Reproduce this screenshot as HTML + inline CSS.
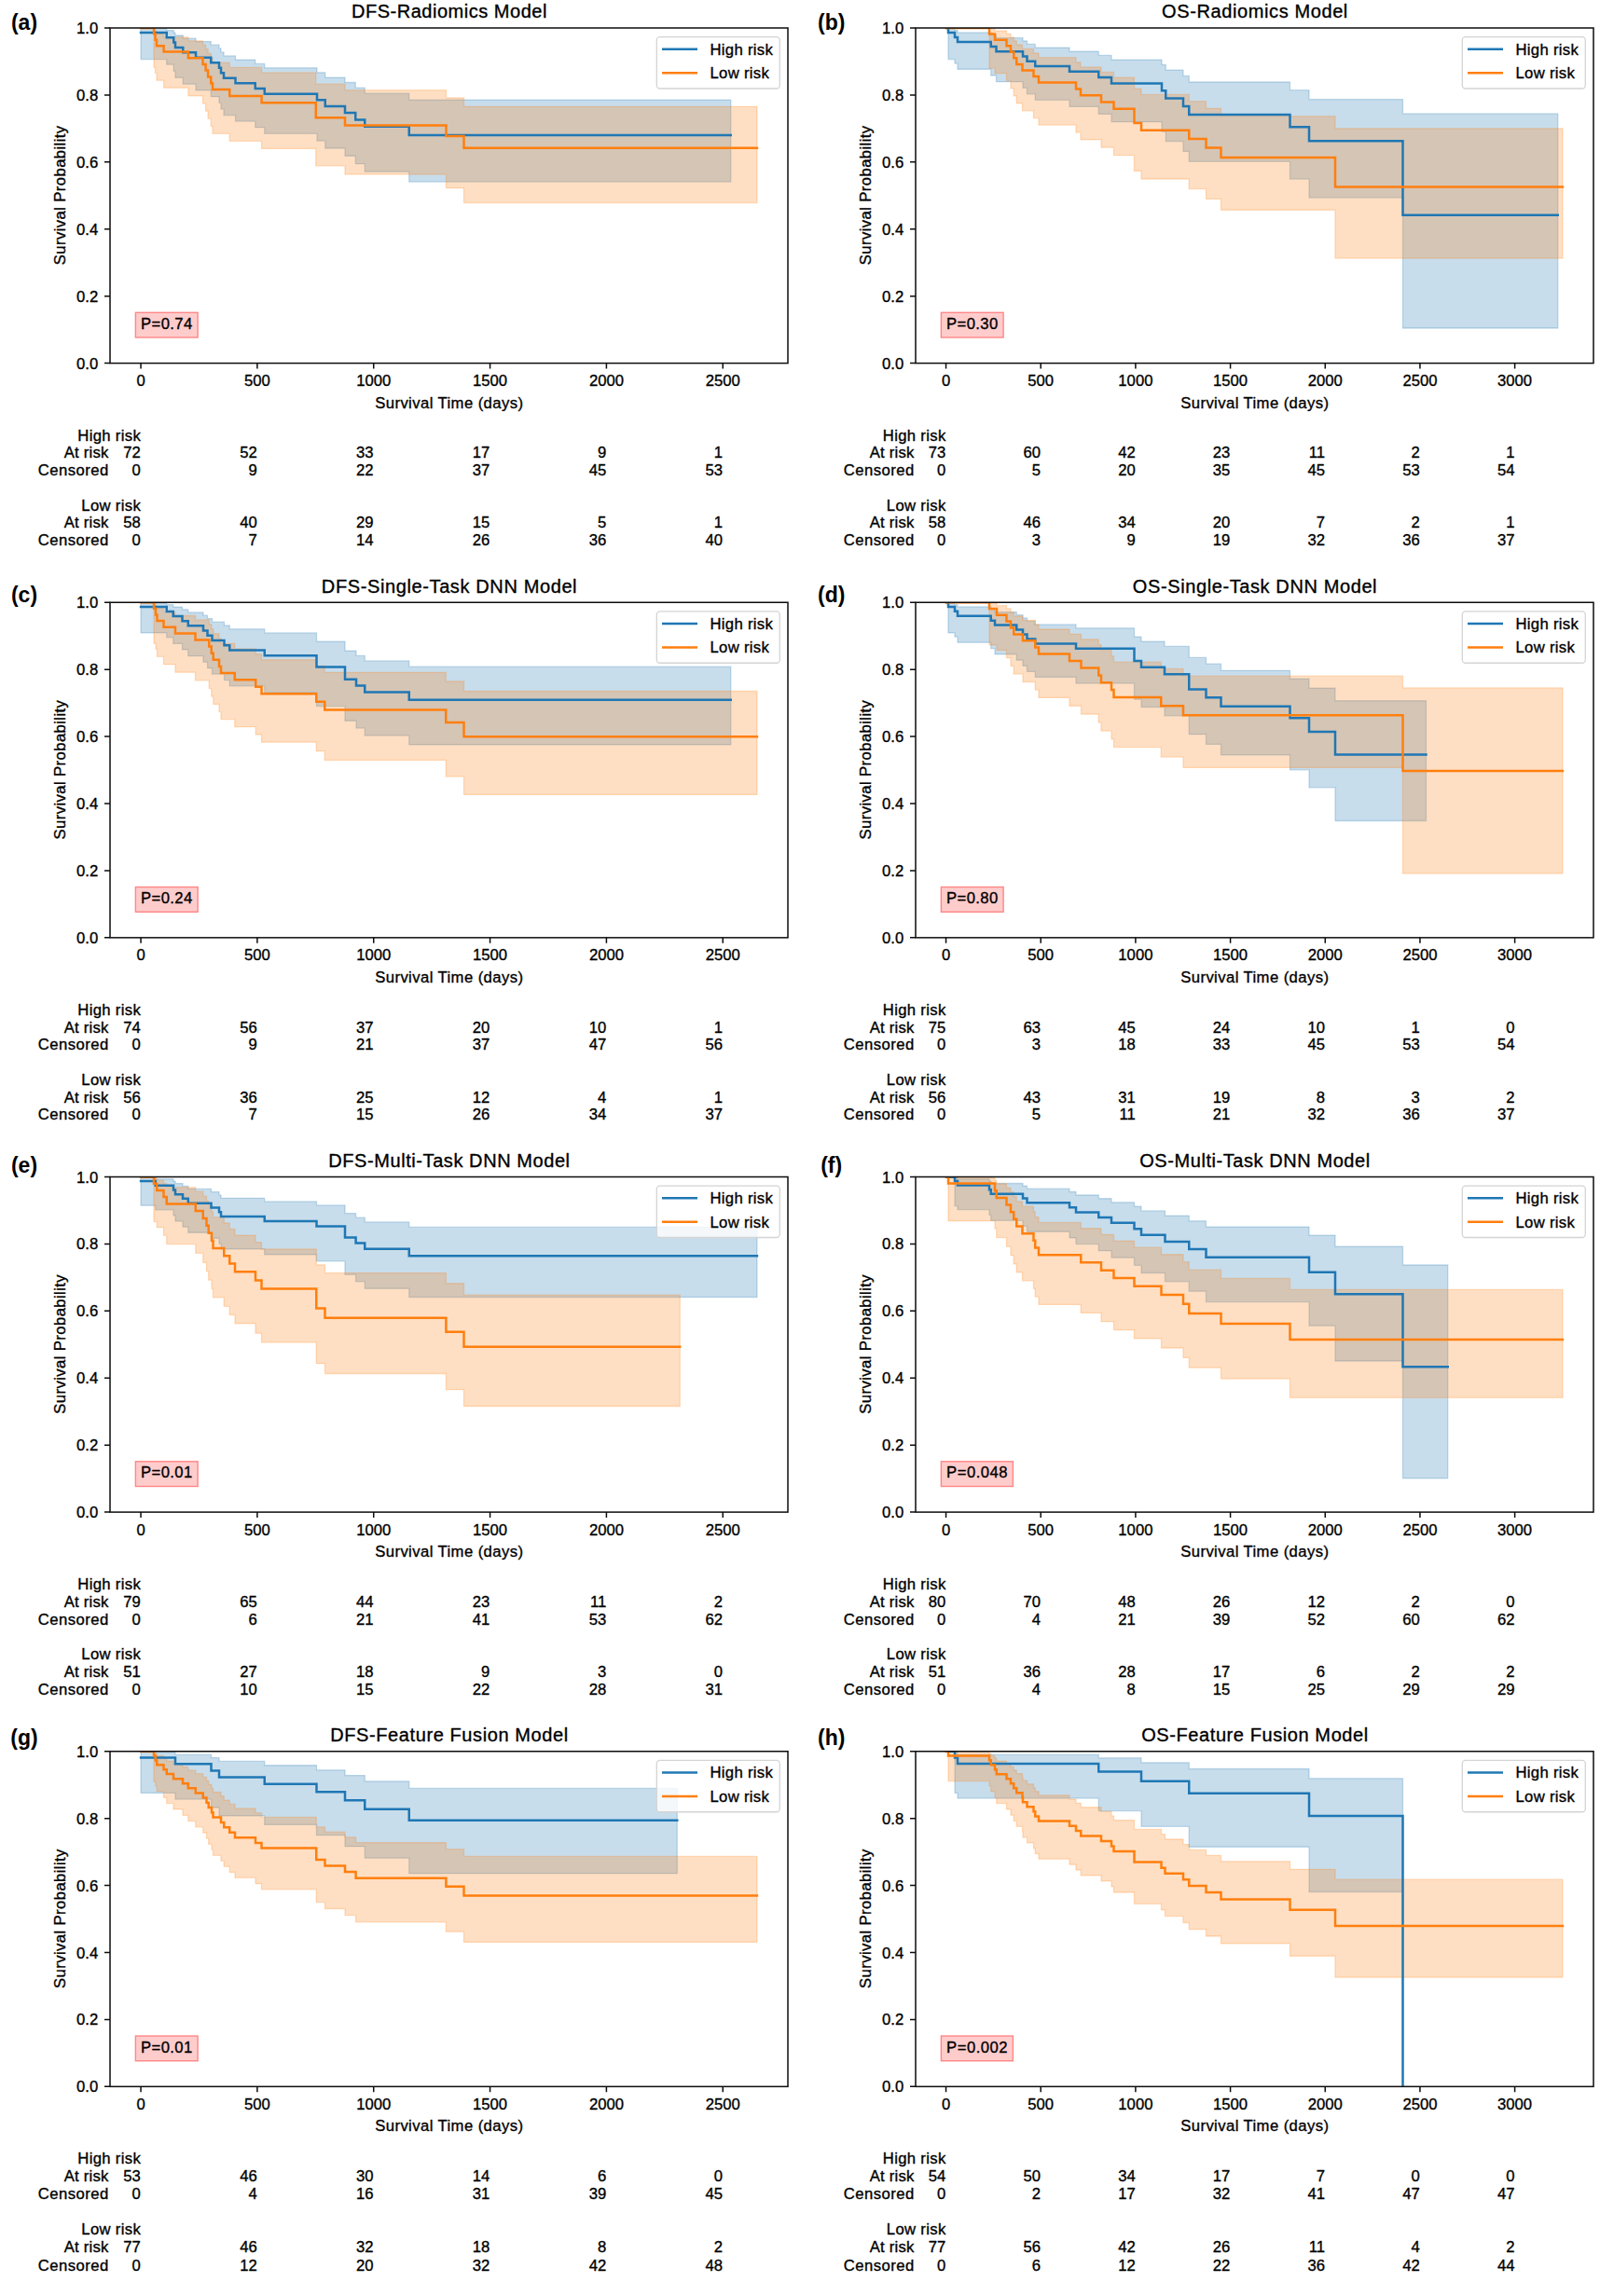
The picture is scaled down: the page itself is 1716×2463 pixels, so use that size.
<!DOCTYPE html>
<html lang="en"><head><meta charset="utf-8"><title>Kaplan-Meier survival curves</title>
<style>html,body{margin:0;padding:0;background:#fff}body{width:1716px;height:2463px;overflow:hidden}svg{display:block}text{font-family:"Liberation Sans",Arial,sans-serif;stroke:#000;stroke-width:0.35px;stroke-linejoin:round}</style></head>
<body>
<svg width="1716" height="2463" viewBox="0 0 1716 2463" font-family="'Liberation Sans', Arial, sans-serif" fill="#000">
<defs><clipPath id="axclip"><rect x="118" y="30" width="727" height="359.6"/></clipPath></defs>
<g transform="translate(0,0)">
<g clip-path="url(#axclip)">
<path d="M151.05 30.7V30.7H178.75V32.58H186.25V35.1H188V38.01H196.25V41.2H210V44.6H226.25V48.21H235V51.97H237V55.91H240V59.96H252.5V64.11H273.75V68.41H283.75V72.87H340V77.85H348.75V83.03H370V88.51H381.25V94.22H391.25V100.16H438.75V107.08H783.75V195.06H438.75V184.18H391.25V175.66H381.25V167.27H370V159H348.75V151.11H340V143.29H283.75V136.65H273.75V130.09H252.5V123.61H240V117.03H237V110.32H235V103.67H226.25V96.88H210V90.14H196.25V83.26H188V76.24H186.25V69.2H178.75V63.54H151.05Z" fill="#1f77b4" fill-opacity="0.25" stroke="#1f77b4" stroke-opacity="0.25" stroke-width="1.3" stroke-linejoin="miter"/>
<path d="M151.05 30H165V30.9V30.9H166.5V33.23H168V36.29H175.6V39.82H201.9V43.78H217.5V48.03H220.6V52.49H223.1V57.22H226.25V62.11H228V67.15H246.25V72.41H280.6V77.89H338.75V90.18H370V96.68H478.5V105.01H497.5V114.28H811.95V217.54H497.5V201.66H478.5V187.06H370V177.81H338.75V159.43H280.6V151.28H246.25V143.28H228V135.4H226.25V127.37H223.1V119.16H220.6V111.05H217.5V102.75H201.9V94.21H175.6V86.15H168V78.28H166.5V72.46H165V30H151.05Z" fill="#ff7f0e" fill-opacity="0.25" stroke="#ff7f0e" stroke-opacity="0.25" stroke-width="1.3" stroke-linejoin="miter"/>
<path d="M151.05 34.93H178.75V40.22H186.25V45.59H188V50.97H196.25V56.34H210V61.72H226.25V67.18H235V72.65H237V78.21H240V83.77H252.5V89.33H273.75V95H283.75V100.77H340V107.34H348.75V114.06H370V121.12H381.25V128.38H391.25V135.84H438.75V144.91H783.75" fill="none" stroke="#1f77b4" stroke-width="2.5" stroke-linecap="square" stroke-linejoin="miter"/>
<path d="M151.05 30H165V36.31H166.5V42.73H168V49.16H175.6V55.58H201.9V62.26H217.5V68.94H220.6V75.62H223.1V82.45H226.25V89.27H228V96.1H246.25V103.09H280.6V110.25H338.75V126.21H370V134.44H478.5V146.04H497.5V158.86H811.95" fill="none" stroke="#ff7f0e" stroke-width="2.5" stroke-linecap="square" stroke-linejoin="miter"/>
</g>
<rect x="118" y="30" width="727" height="359.6" fill="none" stroke="#0d0d0d" stroke-width="1.5"/>
<text x="151.05" y="414.2" text-anchor="middle" font-size="16.67">0</text>
<text x="275.89" y="414.2" text-anchor="middle" font-size="16.67">500</text>
<text x="400.73" y="414.2" text-anchor="middle" font-size="16.67">1000</text>
<text x="525.57" y="414.2" text-anchor="middle" font-size="16.67">1500</text>
<text x="650.41" y="414.2" text-anchor="middle" font-size="16.67">2000</text>
<text x="775.25" y="414.2" text-anchor="middle" font-size="16.67">2500</text>
<text x="105.2" y="395.6" text-anchor="end" font-size="16.67">0.0</text>
<text x="105.2" y="323.68" text-anchor="end" font-size="16.67">0.2</text>
<text x="105.2" y="251.76" text-anchor="end" font-size="16.67">0.4</text>
<text x="105.2" y="179.84" text-anchor="end" font-size="16.67">0.6</text>
<text x="105.2" y="107.92" text-anchor="end" font-size="16.67">0.8</text>
<text x="105.2" y="36" text-anchor="end" font-size="16.67">1.0</text>
<path d="M151.05 389.6v6M275.89 389.6v6M400.73 389.6v6M525.57 389.6v6M650.41 389.6v6M775.25 389.6v6M118 389.6h-6M118 317.68h-6M118 245.76h-6M118 173.84h-6M118 101.92h-6M118 30h-6" stroke="#0d0d0d" stroke-width="1.5" fill="none"/>
<text x="377" y="19.3" font-size="20" textLength="209.4" lengthAdjust="spacing">DFS-Radiomics Model</text>
<text x="402.2" y="437.5" font-size="16.67" textLength="158.8" lengthAdjust="spacing">Survival Time (days)</text>
<text transform="translate(70.2,209.5) rotate(-90)" x="-74.7" y="0" font-size="16.67" textLength="149.4" lengthAdjust="spacing">Survival Probability</text>
<text x="26" y="31.5" text-anchor="middle" font-size="23.0" font-weight="bold" style="stroke:none">(a)</text>
<rect x="145.4" y="335.3" width="66.7" height="26.7" fill="#ffcccc" stroke="#ff8686" stroke-width="1.4"/>
<text x="151.1" y="352.8" font-size="16.67" textLength="55.1" lengthAdjust="spacing">P=0.74</text>
<rect x="704.3" y="39.6" width="132" height="55.4" rx="3.5" fill="#fff" fill-opacity="0.8" stroke="#d4d4d4" stroke-width="1.3"/>
<path d="M710 52.8h38" stroke="#1f77b4" stroke-width="2.5"/>
<path d="M710 78.3h38" stroke="#ff7f0e" stroke-width="2.5"/>
<text x="761.5" y="58.7" font-size="16.67" textLength="67.25" lengthAdjust="spacing">High risk</text>
<text x="761.5" y="84.1" font-size="16.67" textLength="63.25" lengthAdjust="spacing">Low risk</text>
<text x="83.35" y="472.6" font-size="16.67" textLength="67.4" lengthAdjust="spacing">High risk</text>
<text x="68.8" y="491.3" font-size="16.67" textLength="47.5" lengthAdjust="spacing">At risk</text>
<text x="150.85" y="491.3" text-anchor="end" font-size="16.67">72</text>
<text x="275.69" y="491.3" text-anchor="end" font-size="16.67">52</text>
<text x="400.53" y="491.3" text-anchor="end" font-size="16.67">33</text>
<text x="525.37" y="491.3" text-anchor="end" font-size="16.67">17</text>
<text x="650.21" y="491.3" text-anchor="end" font-size="16.67">9</text>
<text x="775.05" y="491.3" text-anchor="end" font-size="16.67">1</text>
<text x="40.8" y="510.1" font-size="16.67" textLength="75.5" lengthAdjust="spacing">Censored</text>
<text x="150.85" y="510.1" text-anchor="end" font-size="16.67">0</text>
<text x="275.69" y="510.1" text-anchor="end" font-size="16.67">9</text>
<text x="400.53" y="510.1" text-anchor="end" font-size="16.67">22</text>
<text x="525.37" y="510.1" text-anchor="end" font-size="16.67">37</text>
<text x="650.21" y="510.1" text-anchor="end" font-size="16.67">45</text>
<text x="775.05" y="510.1" text-anchor="end" font-size="16.67">53</text>
<text x="87.35" y="547.6" font-size="16.67" textLength="63.4" lengthAdjust="spacing">Low risk</text>
<text x="68.8" y="566.3" font-size="16.67" textLength="47.5" lengthAdjust="spacing">At risk</text>
<text x="150.85" y="566.3" text-anchor="end" font-size="16.67">58</text>
<text x="275.69" y="566.3" text-anchor="end" font-size="16.67">40</text>
<text x="400.53" y="566.3" text-anchor="end" font-size="16.67">29</text>
<text x="525.37" y="566.3" text-anchor="end" font-size="16.67">15</text>
<text x="650.21" y="566.3" text-anchor="end" font-size="16.67">5</text>
<text x="775.05" y="566.3" text-anchor="end" font-size="16.67">1</text>
<text x="40.8" y="585.1" font-size="16.67" textLength="75.5" lengthAdjust="spacing">Censored</text>
<text x="150.85" y="585.1" text-anchor="end" font-size="16.67">0</text>
<text x="275.69" y="585.1" text-anchor="end" font-size="16.67">7</text>
<text x="400.53" y="585.1" text-anchor="end" font-size="16.67">14</text>
<text x="525.37" y="585.1" text-anchor="end" font-size="16.67">26</text>
<text x="650.21" y="585.1" text-anchor="end" font-size="16.67">36</text>
<text x="775.05" y="585.1" text-anchor="end" font-size="16.67">40</text>
</g>
<g transform="translate(864,0)">
<g clip-path="url(#axclip)">
<path d="M151.05 30H153V30.7V30.7H160V32.51H163V34.88H198.75V37.66H204.5V40.71H233V43.99H237.5V47.45H246.25V51.08H283V55.03H314.25V59.4H328V64.04H382V69.48H386.25V75.24H405V81.45H411.25V88.01H519.5V96.64H540V106.53H640.5V121.93H806.75V351.99H640.5V212.08H540V192.05H519.5V173.33H411.25V162.42H405V151.55H386.25V141.13H382V130.63H328V122.42H314.25V114.44H283V107.34H246.25V100.8H237.5V94.29H233V87.64H204.5V81.02H198.75V74.27H163V68.07H160V63.54H153V30H151.05Z" fill="#1f77b4" fill-opacity="0.25" stroke="#1f77b4" stroke-opacity="0.25" stroke-width="1.3" stroke-linejoin="miter"/>
<path d="M151.05 30H197V30.91V30.91H203V33.26H215.5V36.33H220V39.91H223.25V43.83H226.25V48.02H232.5V52.41H244.5V56.99H250V61.72H290V66.74H295V71.9H317V77.38H330.5V83.08H352.5V95.1H360V101.43H411.25V108.7H429.5V116.35H445.5V124.68H568V137.8H811.95V277.03H568V225.27H445.5V213.43H429.5V202.59H411.25V191.99H360V183.43H352.5V166.53H330.5V158.15H317V149.91H295V142.09H290V134.12H250V126.53H244.5V118.8H232.5V110.94H226.25V102.92H223.25V94.75H220V86.44H215.5V78.67H203V73.18H197V30H151.05Z" fill="#ff7f0e" fill-opacity="0.25" stroke="#ff7f0e" stroke-opacity="0.25" stroke-width="1.3" stroke-linejoin="miter"/>
<path d="M151.05 30H153V34.93H160V39.92H163V44.92H198.75V50.06H204.5V55.21H233V60.43H237.5V65.66H246.25V70.97H283V76.66H314.25V82.92H328V89.44H382V97.34H386.25V105.46H405V114.07H411.25V122.96H519.5V136.29H540V151.19H640.5V230.66H806.75" fill="none" stroke="#1f77b4" stroke-width="2.5" stroke-linecap="square" stroke-linejoin="miter"/>
<path d="M151.05 30H197V36.42H203V42.84H215.5V49.26H220V55.81H223.25V62.35H226.25V68.9H232.5V75.44H244.5V81.99H250V88.53H290V95.38H295V102.22H317V109.4H330.5V116.78H352.5V131.93H360V139.74H411.25V149H429.5V158.62H445.5V169.12H568V200.62H811.95" fill="none" stroke="#ff7f0e" stroke-width="2.5" stroke-linecap="square" stroke-linejoin="miter"/>
</g>
<rect x="118" y="30" width="727" height="359.6" fill="none" stroke="#0d0d0d" stroke-width="1.5"/>
<text x="150.55" y="414.2" text-anchor="middle" font-size="16.67">0</text>
<text x="252.22" y="414.2" text-anchor="middle" font-size="16.67">500</text>
<text x="353.9" y="414.2" text-anchor="middle" font-size="16.67">1000</text>
<text x="455.58" y="414.2" text-anchor="middle" font-size="16.67">1500</text>
<text x="557.26" y="414.2" text-anchor="middle" font-size="16.67">2000</text>
<text x="658.94" y="414.2" text-anchor="middle" font-size="16.67">2500</text>
<text x="760.62" y="414.2" text-anchor="middle" font-size="16.67">3000</text>
<text x="105.2" y="395.6" text-anchor="end" font-size="16.67">0.0</text>
<text x="105.2" y="323.68" text-anchor="end" font-size="16.67">0.2</text>
<text x="105.2" y="251.76" text-anchor="end" font-size="16.67">0.4</text>
<text x="105.2" y="179.84" text-anchor="end" font-size="16.67">0.6</text>
<text x="105.2" y="107.92" text-anchor="end" font-size="16.67">0.8</text>
<text x="105.2" y="36" text-anchor="end" font-size="16.67">1.0</text>
<path d="M150.55 389.6v6M252.22 389.6v6M353.9 389.6v6M455.58 389.6v6M557.26 389.6v6M658.94 389.6v6M760.62 389.6v6M118 389.6h-6M118 317.68h-6M118 245.76h-6M118 173.84h-6M118 101.92h-6M118 30h-6" stroke="#0d0d0d" stroke-width="1.5" fill="none"/>
<text x="382.07" y="19.3" font-size="20" textLength="199.25" lengthAdjust="spacing">OS-Radiomics Model</text>
<text x="402.2" y="437.5" font-size="16.67" textLength="158.8" lengthAdjust="spacing">Survival Time (days)</text>
<text transform="translate(70.2,209.5) rotate(-90)" x="-74.7" y="0" font-size="16.67" textLength="149.4" lengthAdjust="spacing">Survival Probability</text>
<text x="27.7" y="31.5" text-anchor="middle" font-size="23.0" font-weight="bold" style="stroke:none">(b)</text>
<rect x="145.4" y="335.3" width="66.7" height="26.7" fill="#ffcccc" stroke="#ff8686" stroke-width="1.4"/>
<text x="151.1" y="352.8" font-size="16.67" textLength="55.1" lengthAdjust="spacing">P=0.30</text>
<rect x="704.3" y="39.6" width="132" height="55.4" rx="3.5" fill="#fff" fill-opacity="0.8" stroke="#d4d4d4" stroke-width="1.3"/>
<path d="M710 52.8h38" stroke="#1f77b4" stroke-width="2.5"/>
<path d="M710 78.3h38" stroke="#ff7f0e" stroke-width="2.5"/>
<text x="761.5" y="58.7" font-size="16.67" textLength="67.25" lengthAdjust="spacing">High risk</text>
<text x="761.5" y="84.1" font-size="16.67" textLength="63.25" lengthAdjust="spacing">Low risk</text>
<text x="82.85" y="472.6" font-size="16.67" textLength="67.4" lengthAdjust="spacing">High risk</text>
<text x="68.8" y="491.3" font-size="16.67" textLength="47.5" lengthAdjust="spacing">At risk</text>
<text x="150.35" y="491.3" text-anchor="end" font-size="16.67">73</text>
<text x="252.02" y="491.3" text-anchor="end" font-size="16.67">60</text>
<text x="353.7" y="491.3" text-anchor="end" font-size="16.67">42</text>
<text x="455.38" y="491.3" text-anchor="end" font-size="16.67">23</text>
<text x="557.06" y="491.3" text-anchor="end" font-size="16.67">11</text>
<text x="658.74" y="491.3" text-anchor="end" font-size="16.67">2</text>
<text x="760.42" y="491.3" text-anchor="end" font-size="16.67">1</text>
<text x="40.8" y="510.1" font-size="16.67" textLength="75.5" lengthAdjust="spacing">Censored</text>
<text x="150.35" y="510.1" text-anchor="end" font-size="16.67">0</text>
<text x="252.02" y="510.1" text-anchor="end" font-size="16.67">5</text>
<text x="353.7" y="510.1" text-anchor="end" font-size="16.67">20</text>
<text x="455.38" y="510.1" text-anchor="end" font-size="16.67">35</text>
<text x="557.06" y="510.1" text-anchor="end" font-size="16.67">45</text>
<text x="658.74" y="510.1" text-anchor="end" font-size="16.67">53</text>
<text x="760.42" y="510.1" text-anchor="end" font-size="16.67">54</text>
<text x="86.85" y="547.6" font-size="16.67" textLength="63.4" lengthAdjust="spacing">Low risk</text>
<text x="68.8" y="566.3" font-size="16.67" textLength="47.5" lengthAdjust="spacing">At risk</text>
<text x="150.35" y="566.3" text-anchor="end" font-size="16.67">58</text>
<text x="252.02" y="566.3" text-anchor="end" font-size="16.67">46</text>
<text x="353.7" y="566.3" text-anchor="end" font-size="16.67">34</text>
<text x="455.38" y="566.3" text-anchor="end" font-size="16.67">20</text>
<text x="557.06" y="566.3" text-anchor="end" font-size="16.67">7</text>
<text x="658.74" y="566.3" text-anchor="end" font-size="16.67">2</text>
<text x="760.42" y="566.3" text-anchor="end" font-size="16.67">1</text>
<text x="40.8" y="585.1" font-size="16.67" textLength="75.5" lengthAdjust="spacing">Censored</text>
<text x="150.35" y="585.1" text-anchor="end" font-size="16.67">0</text>
<text x="252.02" y="585.1" text-anchor="end" font-size="16.67">3</text>
<text x="353.7" y="585.1" text-anchor="end" font-size="16.67">9</text>
<text x="455.38" y="585.1" text-anchor="end" font-size="16.67">19</text>
<text x="557.06" y="585.1" text-anchor="end" font-size="16.67">32</text>
<text x="658.74" y="585.1" text-anchor="end" font-size="16.67">36</text>
<text x="760.42" y="585.1" text-anchor="end" font-size="16.67">37</text>
</g>
<g transform="translate(0,616.25)">
<g clip-path="url(#axclip)">
<path d="M151.05 30.68V30.68H178.75V32.47H185.75V34.86H195.5V37.61H201.75V40.65H218V43.89H222.5V47.34H227.5V50.93H240.5V54.68H246.25V58.54H283.75V62.66H339.5V71.82H370V81.87H382V87.15H391.25V92.64H438.75V98.94H783.75V182.64H438.75V172.78H391.25V164.83H382V156.99H370V141.31H339.5V126.33H283.75V119.61H246.25V113.28H240.5V106.83H227.5V100.42H222.5V93.88H218V87.38H201.75V80.72H195.5V74.14H185.75V67.6H178.75V62.69H151.05Z" fill="#1f77b4" fill-opacity="0.25" stroke="#1f77b4" stroke-opacity="0.25" stroke-width="1.3" stroke-linejoin="miter"/>
<path d="M151.05 30H165V30.93V30.93H167V33.35H168.5V36.53H175.5V40.19H188V44.25H209.5V48.66H224.25V53.37H226.75V58.29H228.75V63.39H235V68.64H237V74.03H251.75V79.65H274.25V85.51H280.5V91.49H339.25V98.14H348.25V105.11H478.25V114.53H497.5V125.27H811.95V236.21H497.5V216.78H478.25V199.18H348.25V189.46H339.25V179.94H280.5V171.77H274.25V163.44H251.75V155.28H237V147.28H235V139.13H228.75V130.82H226.75V122.32H224.25V113.6H209.5V104.96H188V96.43H175.5V88.1H168.5V79.96H167V73.92H165V30H151.05Z" fill="#ff7f0e" fill-opacity="0.25" stroke="#ff7f0e" stroke-opacity="0.25" stroke-width="1.3" stroke-linejoin="miter"/>
<path d="M151.05 34.79H178.75V39.79H185.75V44.86H195.5V49.93H201.75V55.08H218V60.22H222.5V65.45H227.5V70.68H240.5V76H246.25V81.31H283.75V86.92H339.5V99.27H370V112.47H382V119.23H391.25V126.16H438.75V134.39H783.75" fill="none" stroke="#1f77b4" stroke-width="2.5" stroke-linecap="square" stroke-linejoin="miter"/>
<path d="M151.05 30H165V36.54H167V43.2H168.5V49.86H175.5V56.52H188V63.32H209.5V70.26H224.25V77.36H226.75V84.46H228.75V91.55H235V98.65H237V105.74H251.75V113.02H274.25V120.5H280.5V127.97H339.25V136.41H348.25V145.14H478.25V158.72H497.5V174.12H811.95" fill="none" stroke="#ff7f0e" stroke-width="2.5" stroke-linecap="square" stroke-linejoin="miter"/>
</g>
<rect x="118" y="30" width="727" height="359.6" fill="none" stroke="#0d0d0d" stroke-width="1.5"/>
<text x="151.05" y="414.2" text-anchor="middle" font-size="16.67">0</text>
<text x="275.89" y="414.2" text-anchor="middle" font-size="16.67">500</text>
<text x="400.73" y="414.2" text-anchor="middle" font-size="16.67">1000</text>
<text x="525.57" y="414.2" text-anchor="middle" font-size="16.67">1500</text>
<text x="650.41" y="414.2" text-anchor="middle" font-size="16.67">2000</text>
<text x="775.25" y="414.2" text-anchor="middle" font-size="16.67">2500</text>
<text x="105.2" y="395.6" text-anchor="end" font-size="16.67">0.0</text>
<text x="105.2" y="323.68" text-anchor="end" font-size="16.67">0.2</text>
<text x="105.2" y="251.76" text-anchor="end" font-size="16.67">0.4</text>
<text x="105.2" y="179.84" text-anchor="end" font-size="16.67">0.6</text>
<text x="105.2" y="107.92" text-anchor="end" font-size="16.67">0.8</text>
<text x="105.2" y="36" text-anchor="end" font-size="16.67">1.0</text>
<path d="M151.05 389.6v6M275.89 389.6v6M400.73 389.6v6M525.57 389.6v6M650.41 389.6v6M775.25 389.6v6M118 389.6h-6M118 317.68h-6M118 245.76h-6M118 173.84h-6M118 101.92h-6M118 30h-6" stroke="#0d0d0d" stroke-width="1.5" fill="none"/>
<text x="344.82" y="19.3" font-size="20" textLength="273.75" lengthAdjust="spacing">DFS-Single-Task DNN Model</text>
<text x="402.2" y="437.5" font-size="16.67" textLength="158.8" lengthAdjust="spacing">Survival Time (days)</text>
<text transform="translate(70.2,209.5) rotate(-90)" x="-74.7" y="0" font-size="16.67" textLength="149.4" lengthAdjust="spacing">Survival Probability</text>
<text x="26" y="29.4" text-anchor="middle" font-size="23.0" font-weight="bold" style="stroke:none">(c)</text>
<rect x="145.4" y="335.3" width="66.7" height="26.7" fill="#ffcccc" stroke="#ff8686" stroke-width="1.4"/>
<text x="151.1" y="352.8" font-size="16.67" textLength="55.1" lengthAdjust="spacing">P=0.24</text>
<rect x="704.3" y="39.6" width="132" height="55.4" rx="3.5" fill="#fff" fill-opacity="0.8" stroke="#d4d4d4" stroke-width="1.3"/>
<path d="M710 52.8h38" stroke="#1f77b4" stroke-width="2.5"/>
<path d="M710 78.3h38" stroke="#ff7f0e" stroke-width="2.5"/>
<text x="761.5" y="58.7" font-size="16.67" textLength="67.25" lengthAdjust="spacing">High risk</text>
<text x="761.5" y="84.1" font-size="16.67" textLength="63.25" lengthAdjust="spacing">Low risk</text>
<text x="83.35" y="472.6" font-size="16.67" textLength="67.4" lengthAdjust="spacing">High risk</text>
<text x="68.8" y="491.3" font-size="16.67" textLength="47.5" lengthAdjust="spacing">At risk</text>
<text x="150.85" y="491.3" text-anchor="end" font-size="16.67">74</text>
<text x="275.69" y="491.3" text-anchor="end" font-size="16.67">56</text>
<text x="400.53" y="491.3" text-anchor="end" font-size="16.67">37</text>
<text x="525.37" y="491.3" text-anchor="end" font-size="16.67">20</text>
<text x="650.21" y="491.3" text-anchor="end" font-size="16.67">10</text>
<text x="775.05" y="491.3" text-anchor="end" font-size="16.67">1</text>
<text x="40.8" y="510.1" font-size="16.67" textLength="75.5" lengthAdjust="spacing">Censored</text>
<text x="150.85" y="510.1" text-anchor="end" font-size="16.67">0</text>
<text x="275.69" y="510.1" text-anchor="end" font-size="16.67">9</text>
<text x="400.53" y="510.1" text-anchor="end" font-size="16.67">21</text>
<text x="525.37" y="510.1" text-anchor="end" font-size="16.67">37</text>
<text x="650.21" y="510.1" text-anchor="end" font-size="16.67">47</text>
<text x="775.05" y="510.1" text-anchor="end" font-size="16.67">56</text>
<text x="87.35" y="547.6" font-size="16.67" textLength="63.4" lengthAdjust="spacing">Low risk</text>
<text x="68.8" y="566.3" font-size="16.67" textLength="47.5" lengthAdjust="spacing">At risk</text>
<text x="150.85" y="566.3" text-anchor="end" font-size="16.67">56</text>
<text x="275.69" y="566.3" text-anchor="end" font-size="16.67">36</text>
<text x="400.53" y="566.3" text-anchor="end" font-size="16.67">25</text>
<text x="525.37" y="566.3" text-anchor="end" font-size="16.67">12</text>
<text x="650.21" y="566.3" text-anchor="end" font-size="16.67">4</text>
<text x="775.05" y="566.3" text-anchor="end" font-size="16.67">1</text>
<text x="40.8" y="585.1" font-size="16.67" textLength="75.5" lengthAdjust="spacing">Censored</text>
<text x="150.85" y="585.1" text-anchor="end" font-size="16.67">0</text>
<text x="275.69" y="585.1" text-anchor="end" font-size="16.67">7</text>
<text x="400.53" y="585.1" text-anchor="end" font-size="16.67">15</text>
<text x="525.37" y="585.1" text-anchor="end" font-size="16.67">26</text>
<text x="650.21" y="585.1" text-anchor="end" font-size="16.67">34</text>
<text x="775.05" y="585.1" text-anchor="end" font-size="16.67">37</text>
</g>
<g transform="translate(864,616.25)">
<g clip-path="url(#axclip)">
<path d="M151.05 30H153V30.68V30.68H160V32.42H163V34.72H198.75V37.4H203V40.32H226.25V43.44H233V46.71H237.5V50.14H246.25V53.69H290V57.57H352.5V66.85H360V71.79H385V77.22H411.25V89.21H429.5V95.89H445.5V103.09H519.5V111.83H540V121.99H568V135.51H665.5V264.27H568V228.6H540V209.61H519.5V193.65H445.5V182.17H429.5V171.39H411.25V151.54H385V142.23H360V133.88H352.5V116.86H290V110.16H246.25V104.13H237.5V97.99H233V91.9H226.25V85.69H203V79.37H198.75V72.95H163V66.84H160V62.69H153V30H151.05Z" fill="#1f77b4" fill-opacity="0.25" stroke="#1f77b4" stroke-opacity="0.25" stroke-width="1.3" stroke-linejoin="miter"/>
<path d="M151.05 30H197V30.96V30.96H205V33.44H215.5V36.69H220V40.49H223.25V44.64H233V49.08H246.25V53.82H250V58.76H283V64.05H295.5V69.61H314.25V75.45H317V81.44H328V87.57H330.5V93.97H381.25V101.16H405V108.94H640.5V121.69H811.95V320.83H640.5V207.16H405V195.84H381.25V185.37H330.5V176.5H328V167.83H317V158.97H314.25V149.91H295.5V140.98H283V132.17H250V123.8H246.25V115.24H233V106.8H223.25V98.2H220V89.45H215.5V81.27H205V75.49H197V30H151.05Z" fill="#ff7f0e" fill-opacity="0.25" stroke="#ff7f0e" stroke-opacity="0.25" stroke-width="1.3" stroke-linejoin="miter"/>
<path d="M151.05 30H153V34.79H160V39.59H163V44.45H198.75V49.38H203V54.31H226.25V59.24H233V64.17H237.5V69.18H246.25V74.19H290V79.62H352.5V92.82H360V99.56H385V107H411.25V123.15H429.5V132.03H445.5V141.57H519.5V153.97H540V168.7H568V193.24H665.5" fill="none" stroke="#1f77b4" stroke-width="2.5" stroke-linecap="square" stroke-linejoin="miter"/>
<path d="M151.05 30H197V36.78H205V43.57H215.5V50.35H220V57.28H223.25V64.2H233V71.12H246.25V78.2H250V85.28H283V92.7H295.5V100.31H314.25V108.13H317V115.95H328V123.77H330.5V131.83H381.25V141.03H405V150.97H640.5V210.63H811.95" fill="none" stroke="#ff7f0e" stroke-width="2.5" stroke-linecap="square" stroke-linejoin="miter"/>
</g>
<rect x="118" y="30" width="727" height="359.6" fill="none" stroke="#0d0d0d" stroke-width="1.5"/>
<text x="150.55" y="414.2" text-anchor="middle" font-size="16.67">0</text>
<text x="252.22" y="414.2" text-anchor="middle" font-size="16.67">500</text>
<text x="353.9" y="414.2" text-anchor="middle" font-size="16.67">1000</text>
<text x="455.58" y="414.2" text-anchor="middle" font-size="16.67">1500</text>
<text x="557.26" y="414.2" text-anchor="middle" font-size="16.67">2000</text>
<text x="658.94" y="414.2" text-anchor="middle" font-size="16.67">2500</text>
<text x="760.62" y="414.2" text-anchor="middle" font-size="16.67">3000</text>
<text x="105.2" y="395.6" text-anchor="end" font-size="16.67">0.0</text>
<text x="105.2" y="323.68" text-anchor="end" font-size="16.67">0.2</text>
<text x="105.2" y="251.76" text-anchor="end" font-size="16.67">0.4</text>
<text x="105.2" y="179.84" text-anchor="end" font-size="16.67">0.6</text>
<text x="105.2" y="107.92" text-anchor="end" font-size="16.67">0.8</text>
<text x="105.2" y="36" text-anchor="end" font-size="16.67">1.0</text>
<path d="M150.55 389.6v6M252.22 389.6v6M353.9 389.6v6M455.58 389.6v6M557.26 389.6v6M658.94 389.6v6M760.62 389.6v6M118 389.6h-6M118 317.68h-6M118 245.76h-6M118 173.84h-6M118 101.92h-6M118 30h-6" stroke="#0d0d0d" stroke-width="1.5" fill="none"/>
<text x="350.82" y="19.3" font-size="20" textLength="261.75" lengthAdjust="spacing">OS-Single-Task DNN Model</text>
<text x="402.2" y="437.5" font-size="16.67" textLength="158.8" lengthAdjust="spacing">Survival Time (days)</text>
<text transform="translate(70.2,209.5) rotate(-90)" x="-74.7" y="0" font-size="16.67" textLength="149.4" lengthAdjust="spacing">Survival Probability</text>
<text x="27.7" y="29.4" text-anchor="middle" font-size="23.0" font-weight="bold" style="stroke:none">(d)</text>
<rect x="145.4" y="335.3" width="66.7" height="26.7" fill="#ffcccc" stroke="#ff8686" stroke-width="1.4"/>
<text x="151.1" y="352.8" font-size="16.67" textLength="55.1" lengthAdjust="spacing">P=0.80</text>
<rect x="704.3" y="39.6" width="132" height="55.4" rx="3.5" fill="#fff" fill-opacity="0.8" stroke="#d4d4d4" stroke-width="1.3"/>
<path d="M710 52.8h38" stroke="#1f77b4" stroke-width="2.5"/>
<path d="M710 78.3h38" stroke="#ff7f0e" stroke-width="2.5"/>
<text x="761.5" y="58.7" font-size="16.67" textLength="67.25" lengthAdjust="spacing">High risk</text>
<text x="761.5" y="84.1" font-size="16.67" textLength="63.25" lengthAdjust="spacing">Low risk</text>
<text x="82.85" y="472.6" font-size="16.67" textLength="67.4" lengthAdjust="spacing">High risk</text>
<text x="68.8" y="491.3" font-size="16.67" textLength="47.5" lengthAdjust="spacing">At risk</text>
<text x="150.35" y="491.3" text-anchor="end" font-size="16.67">75</text>
<text x="252.02" y="491.3" text-anchor="end" font-size="16.67">63</text>
<text x="353.7" y="491.3" text-anchor="end" font-size="16.67">45</text>
<text x="455.38" y="491.3" text-anchor="end" font-size="16.67">24</text>
<text x="557.06" y="491.3" text-anchor="end" font-size="16.67">10</text>
<text x="658.74" y="491.3" text-anchor="end" font-size="16.67">1</text>
<text x="760.42" y="491.3" text-anchor="end" font-size="16.67">0</text>
<text x="40.8" y="510.1" font-size="16.67" textLength="75.5" lengthAdjust="spacing">Censored</text>
<text x="150.35" y="510.1" text-anchor="end" font-size="16.67">0</text>
<text x="252.02" y="510.1" text-anchor="end" font-size="16.67">3</text>
<text x="353.7" y="510.1" text-anchor="end" font-size="16.67">18</text>
<text x="455.38" y="510.1" text-anchor="end" font-size="16.67">33</text>
<text x="557.06" y="510.1" text-anchor="end" font-size="16.67">45</text>
<text x="658.74" y="510.1" text-anchor="end" font-size="16.67">53</text>
<text x="760.42" y="510.1" text-anchor="end" font-size="16.67">54</text>
<text x="86.85" y="547.6" font-size="16.67" textLength="63.4" lengthAdjust="spacing">Low risk</text>
<text x="68.8" y="566.3" font-size="16.67" textLength="47.5" lengthAdjust="spacing">At risk</text>
<text x="150.35" y="566.3" text-anchor="end" font-size="16.67">56</text>
<text x="252.02" y="566.3" text-anchor="end" font-size="16.67">43</text>
<text x="353.7" y="566.3" text-anchor="end" font-size="16.67">31</text>
<text x="455.38" y="566.3" text-anchor="end" font-size="16.67">19</text>
<text x="557.06" y="566.3" text-anchor="end" font-size="16.67">8</text>
<text x="658.74" y="566.3" text-anchor="end" font-size="16.67">3</text>
<text x="760.42" y="566.3" text-anchor="end" font-size="16.67">2</text>
<text x="40.8" y="585.1" font-size="16.67" textLength="75.5" lengthAdjust="spacing">Censored</text>
<text x="150.35" y="585.1" text-anchor="end" font-size="16.67">0</text>
<text x="252.02" y="585.1" text-anchor="end" font-size="16.67">5</text>
<text x="353.7" y="585.1" text-anchor="end" font-size="16.67">11</text>
<text x="455.38" y="585.1" text-anchor="end" font-size="16.67">21</text>
<text x="557.06" y="585.1" text-anchor="end" font-size="16.67">32</text>
<text x="658.74" y="585.1" text-anchor="end" font-size="16.67">36</text>
<text x="760.42" y="585.1" text-anchor="end" font-size="16.67">37</text>
</g>
<g transform="translate(0,1232.5)">
<g clip-path="url(#axclip)">
<path d="M151.05 30.64V30.64H166.75V32.31H186V34.54H188V37.11H196V39.91H201.8V42.93H226.5V46.11H235V49.4H237V52.81H283.75V56.38H339.5V60.38H370V69.03H381.6V73.65H391.25V78.44H438.75V83.95H811.95V158.99H438.75V149.75H391.25V142.28H381.6V134.86H370V120.35H339.5V113.4H283.75V107.43H237V101.64H235V95.76H226.5V89.77H201.8V83.65H196V77.57H188V71.41H186V65.29H166.75V60.72H151.05Z" fill="#1f77b4" fill-opacity="0.25" stroke="#1f77b4" stroke-opacity="0.25" stroke-width="1.3" stroke-linejoin="miter"/>
<path d="M151.05 30H165V31.02V31.02H168.25V33.65H175.5V37.1H178.75V41.14H209.75V45.7H217.75V50.67H221.5V55.93H223.7V61.42H227V67.23H228.5V73.22H240.25V79.52H246.25V85.98H252V92.75H274V100.03H280.5V107.48H339.25V124.31H348.5V133.05H478.4V144.26H497.5V156.64H729.25V276.02H497.5V258.16H478.4V240.98H348.5V230.19H339.25V207.58H280.5V197.65H274V187.46H252V178.01H246.25V168.79H240.25V159.36H228.5V150.12H227V140.65H223.7V131.34H221.5V121.77H217.75V111.87H209.75V102.03H178.75V92.79H175.5V84.16H168.25V78.05H165V30H151.05Z" fill="#ff7f0e" fill-opacity="0.25" stroke="#ff7f0e" stroke-opacity="0.25" stroke-width="1.3" stroke-linejoin="miter"/>
<path d="M151.05 34.5H166.75V39.17H186V43.9H188V48.64H196V53.37H201.8V58.18H226.5V62.98H235V67.78H237V72.59H283.75V77.54H339.5V83.11H370V94.9H381.6V101.04H391.25V107.31H438.75V114.74H811.95" fill="none" stroke="#1f77b4" stroke-width="2.5" stroke-linecap="square" stroke-linejoin="miter"/>
<path d="M151.05 30H165V37.19H168.25V44.38H175.5V51.58H178.75V58.92H209.75V66.61H217.75V74.49H221.5V82.37H223.7V90.25H227V98.34H228.5V106.43H240.25V114.76H246.25V123.09H252V131.68H274V140.89H280.5V150.11H339.25V170.93H348.5V181.34H478.4V196.22H497.5V212.33H729.25" fill="none" stroke="#ff7f0e" stroke-width="2.5" stroke-linecap="square" stroke-linejoin="miter"/>
</g>
<rect x="118" y="30" width="727" height="359.6" fill="none" stroke="#0d0d0d" stroke-width="1.5"/>
<text x="151.05" y="414.2" text-anchor="middle" font-size="16.67">0</text>
<text x="275.89" y="414.2" text-anchor="middle" font-size="16.67">500</text>
<text x="400.73" y="414.2" text-anchor="middle" font-size="16.67">1000</text>
<text x="525.57" y="414.2" text-anchor="middle" font-size="16.67">1500</text>
<text x="650.41" y="414.2" text-anchor="middle" font-size="16.67">2000</text>
<text x="775.25" y="414.2" text-anchor="middle" font-size="16.67">2500</text>
<text x="105.2" y="395.6" text-anchor="end" font-size="16.67">0.0</text>
<text x="105.2" y="323.68" text-anchor="end" font-size="16.67">0.2</text>
<text x="105.2" y="251.76" text-anchor="end" font-size="16.67">0.4</text>
<text x="105.2" y="179.84" text-anchor="end" font-size="16.67">0.6</text>
<text x="105.2" y="107.92" text-anchor="end" font-size="16.67">0.8</text>
<text x="105.2" y="36" text-anchor="end" font-size="16.67">1.0</text>
<path d="M151.05 389.6v6M275.89 389.6v6M400.73 389.6v6M525.57 389.6v6M650.41 389.6v6M775.25 389.6v6M118 389.6h-6M118 317.68h-6M118 245.76h-6M118 173.84h-6M118 101.92h-6M118 30h-6" stroke="#0d0d0d" stroke-width="1.5" fill="none"/>
<text x="352.32" y="19.3" font-size="20" textLength="258.75" lengthAdjust="spacing">DFS-Multi-Task DNN Model</text>
<text x="402.2" y="437.5" font-size="16.67" textLength="158.8" lengthAdjust="spacing">Survival Time (days)</text>
<text transform="translate(70.2,209.5) rotate(-90)" x="-74.7" y="0" font-size="16.67" textLength="149.4" lengthAdjust="spacing">Survival Probability</text>
<text x="26" y="25.9" text-anchor="middle" font-size="23.0" font-weight="bold" style="stroke:none">(e)</text>
<rect x="145.4" y="335.3" width="66.7" height="26.7" fill="#ffcccc" stroke="#ff8686" stroke-width="1.4"/>
<text x="151.1" y="352.8" font-size="16.67" textLength="55.1" lengthAdjust="spacing">P=0.01</text>
<rect x="704.3" y="39.6" width="132" height="55.4" rx="3.5" fill="#fff" fill-opacity="0.8" stroke="#d4d4d4" stroke-width="1.3"/>
<path d="M710 52.8h38" stroke="#1f77b4" stroke-width="2.5"/>
<path d="M710 78.3h38" stroke="#ff7f0e" stroke-width="2.5"/>
<text x="761.5" y="58.7" font-size="16.67" textLength="67.25" lengthAdjust="spacing">High risk</text>
<text x="761.5" y="84.1" font-size="16.67" textLength="63.25" lengthAdjust="spacing">Low risk</text>
<text x="83.35" y="472.6" font-size="16.67" textLength="67.4" lengthAdjust="spacing">High risk</text>
<text x="68.8" y="491.3" font-size="16.67" textLength="47.5" lengthAdjust="spacing">At risk</text>
<text x="150.85" y="491.3" text-anchor="end" font-size="16.67">79</text>
<text x="275.69" y="491.3" text-anchor="end" font-size="16.67">65</text>
<text x="400.53" y="491.3" text-anchor="end" font-size="16.67">44</text>
<text x="525.37" y="491.3" text-anchor="end" font-size="16.67">23</text>
<text x="650.21" y="491.3" text-anchor="end" font-size="16.67">11</text>
<text x="775.05" y="491.3" text-anchor="end" font-size="16.67">2</text>
<text x="40.8" y="510.1" font-size="16.67" textLength="75.5" lengthAdjust="spacing">Censored</text>
<text x="150.85" y="510.1" text-anchor="end" font-size="16.67">0</text>
<text x="275.69" y="510.1" text-anchor="end" font-size="16.67">6</text>
<text x="400.53" y="510.1" text-anchor="end" font-size="16.67">21</text>
<text x="525.37" y="510.1" text-anchor="end" font-size="16.67">41</text>
<text x="650.21" y="510.1" text-anchor="end" font-size="16.67">53</text>
<text x="775.05" y="510.1" text-anchor="end" font-size="16.67">62</text>
<text x="87.35" y="547.6" font-size="16.67" textLength="63.4" lengthAdjust="spacing">Low risk</text>
<text x="68.8" y="566.3" font-size="16.67" textLength="47.5" lengthAdjust="spacing">At risk</text>
<text x="150.85" y="566.3" text-anchor="end" font-size="16.67">51</text>
<text x="275.69" y="566.3" text-anchor="end" font-size="16.67">27</text>
<text x="400.53" y="566.3" text-anchor="end" font-size="16.67">18</text>
<text x="525.37" y="566.3" text-anchor="end" font-size="16.67">9</text>
<text x="650.21" y="566.3" text-anchor="end" font-size="16.67">3</text>
<text x="775.05" y="566.3" text-anchor="end" font-size="16.67">0</text>
<text x="40.8" y="585.1" font-size="16.67" textLength="75.5" lengthAdjust="spacing">Censored</text>
<text x="150.85" y="585.1" text-anchor="end" font-size="16.67">0</text>
<text x="275.69" y="585.1" text-anchor="end" font-size="16.67">10</text>
<text x="400.53" y="585.1" text-anchor="end" font-size="16.67">15</text>
<text x="525.37" y="585.1" text-anchor="end" font-size="16.67">22</text>
<text x="650.21" y="585.1" text-anchor="end" font-size="16.67">28</text>
<text x="775.05" y="585.1" text-anchor="end" font-size="16.67">31</text>
</g>
<g transform="translate(864,1232.5)">
<g clip-path="url(#axclip)">
<path d="M151.05 30H160V30.64V30.64H163V32.3H197V34.48H198.75V36.99H233V39.76H237.5V42.7H283V46H290V49.48H314.25V53.26H328V57.33H352.5V61.76H360V66.41H385.5V71.58H411.25V77.31H429.5V83.61H540V92.58H568V104.59H640.5V124.5H688.75V353.23H640.5V227.49H568V189.68H540V164.05H429.5V152.72H411.25V142.3H385.5V133H360V124.87H352.5V116.71H328V109.21H314.25V102.06H290V95.43H283V88.74H237.5V82.82H233V76.79H198.75V70.85H197V65.04H163V61.09H160V30H151.05Z" fill="#1f77b4" fill-opacity="0.25" stroke="#1f77b4" stroke-opacity="0.25" stroke-width="1.3" stroke-linejoin="miter"/>
<path d="M151.05 30H153V31V31H203V33.73H204.75V37.36H215.5V41.57H220V46.18H223.25V51.11H226.25V56.3H232.5V61.7H244.5V67.3H246.25V73.06H250V78.96H295.25V85.27H317V91.87H330.5V98.61H352.5V105.66H381.5V113.25H405V121.24H411.25V129.67H445.5V138.9H519.5V150.93H811.95V266.86H519.5V246.61H445.5V234.64H411.25V223.9H405V213.52H381.5V203.46H352.5V194.18H330.5V185.16H317V175.96H295.25V166.97H250V158.56H246.25V150H244.5V141.3H232.5V132.43H226.25V123.38H223.25V114.14H220V104.69H215.5V95.06H204.75V85.42H203V77.16H153V30H151.05Z" fill="#ff7f0e" fill-opacity="0.25" stroke="#ff7f0e" stroke-opacity="0.25" stroke-width="1.3" stroke-linejoin="miter"/>
<path d="M151.05 30H160V34.55H163V39.1H197V43.72H198.75V48.33H233V53H237.5V57.68H283V62.78H290V67.97H314.25V73.52H328V79.37H352.5V85.7H360V92.17H385.5V99.42H411.25V107.48H429.5V116.3H540V132.37H568V155.76H640.5V233.71H688.75" fill="none" stroke="#1f77b4" stroke-width="2.5" stroke-linecap="square" stroke-linejoin="miter"/>
<path d="M151.05 30H153V37.05H203V44.72H204.75V52.38H215.5V60.04H220V67.71H223.25V75.37H226.25V83.04H232.5V90.7H244.5V98.36H246.25V106.03H250V113.69H295.25V121.81H317V130.18H330.5V138.54H352.5V147.2H381.5V156.52H405V166.24H411.25V176.39H445.5V187.61H519.5V204.44H811.95" fill="none" stroke="#ff7f0e" stroke-width="2.5" stroke-linecap="square" stroke-linejoin="miter"/>
</g>
<rect x="118" y="30" width="727" height="359.6" fill="none" stroke="#0d0d0d" stroke-width="1.5"/>
<text x="150.55" y="414.2" text-anchor="middle" font-size="16.67">0</text>
<text x="252.22" y="414.2" text-anchor="middle" font-size="16.67">500</text>
<text x="353.9" y="414.2" text-anchor="middle" font-size="16.67">1000</text>
<text x="455.58" y="414.2" text-anchor="middle" font-size="16.67">1500</text>
<text x="557.26" y="414.2" text-anchor="middle" font-size="16.67">2000</text>
<text x="658.94" y="414.2" text-anchor="middle" font-size="16.67">2500</text>
<text x="760.62" y="414.2" text-anchor="middle" font-size="16.67">3000</text>
<text x="105.2" y="395.6" text-anchor="end" font-size="16.67">0.0</text>
<text x="105.2" y="323.68" text-anchor="end" font-size="16.67">0.2</text>
<text x="105.2" y="251.76" text-anchor="end" font-size="16.67">0.4</text>
<text x="105.2" y="179.84" text-anchor="end" font-size="16.67">0.6</text>
<text x="105.2" y="107.92" text-anchor="end" font-size="16.67">0.8</text>
<text x="105.2" y="36" text-anchor="end" font-size="16.67">1.0</text>
<path d="M150.55 389.6v6M252.22 389.6v6M353.9 389.6v6M455.58 389.6v6M557.26 389.6v6M658.94 389.6v6M760.62 389.6v6M118 389.6h-6M118 317.68h-6M118 245.76h-6M118 173.84h-6M118 101.92h-6M118 30h-6" stroke="#0d0d0d" stroke-width="1.5" fill="none"/>
<text x="358.2" y="19.3" font-size="20" textLength="247" lengthAdjust="spacing">OS-Multi-Task DNN Model</text>
<text x="402.2" y="437.5" font-size="16.67" textLength="158.8" lengthAdjust="spacing">Survival Time (days)</text>
<text transform="translate(70.2,209.5) rotate(-90)" x="-74.7" y="0" font-size="16.67" textLength="149.4" lengthAdjust="spacing">Survival Probability</text>
<text x="27.7" y="25.9" text-anchor="middle" font-size="23.0" font-weight="bold" style="stroke:none">(f)</text>
<rect x="145.4" y="335.3" width="77" height="26.7" fill="#ffcccc" stroke="#ff8686" stroke-width="1.4"/>
<text x="151.1" y="352.8" font-size="16.67" textLength="65.4" lengthAdjust="spacing">P=0.048</text>
<rect x="704.3" y="39.6" width="132" height="55.4" rx="3.5" fill="#fff" fill-opacity="0.8" stroke="#d4d4d4" stroke-width="1.3"/>
<path d="M710 52.8h38" stroke="#1f77b4" stroke-width="2.5"/>
<path d="M710 78.3h38" stroke="#ff7f0e" stroke-width="2.5"/>
<text x="761.5" y="58.7" font-size="16.67" textLength="67.25" lengthAdjust="spacing">High risk</text>
<text x="761.5" y="84.1" font-size="16.67" textLength="63.25" lengthAdjust="spacing">Low risk</text>
<text x="82.85" y="472.6" font-size="16.67" textLength="67.4" lengthAdjust="spacing">High risk</text>
<text x="68.8" y="491.3" font-size="16.67" textLength="47.5" lengthAdjust="spacing">At risk</text>
<text x="150.35" y="491.3" text-anchor="end" font-size="16.67">80</text>
<text x="252.02" y="491.3" text-anchor="end" font-size="16.67">70</text>
<text x="353.7" y="491.3" text-anchor="end" font-size="16.67">48</text>
<text x="455.38" y="491.3" text-anchor="end" font-size="16.67">26</text>
<text x="557.06" y="491.3" text-anchor="end" font-size="16.67">12</text>
<text x="658.74" y="491.3" text-anchor="end" font-size="16.67">2</text>
<text x="760.42" y="491.3" text-anchor="end" font-size="16.67">0</text>
<text x="40.8" y="510.1" font-size="16.67" textLength="75.5" lengthAdjust="spacing">Censored</text>
<text x="150.35" y="510.1" text-anchor="end" font-size="16.67">0</text>
<text x="252.02" y="510.1" text-anchor="end" font-size="16.67">4</text>
<text x="353.7" y="510.1" text-anchor="end" font-size="16.67">21</text>
<text x="455.38" y="510.1" text-anchor="end" font-size="16.67">39</text>
<text x="557.06" y="510.1" text-anchor="end" font-size="16.67">52</text>
<text x="658.74" y="510.1" text-anchor="end" font-size="16.67">60</text>
<text x="760.42" y="510.1" text-anchor="end" font-size="16.67">62</text>
<text x="86.85" y="547.6" font-size="16.67" textLength="63.4" lengthAdjust="spacing">Low risk</text>
<text x="68.8" y="566.3" font-size="16.67" textLength="47.5" lengthAdjust="spacing">At risk</text>
<text x="150.35" y="566.3" text-anchor="end" font-size="16.67">51</text>
<text x="252.02" y="566.3" text-anchor="end" font-size="16.67">36</text>
<text x="353.7" y="566.3" text-anchor="end" font-size="16.67">28</text>
<text x="455.38" y="566.3" text-anchor="end" font-size="16.67">17</text>
<text x="557.06" y="566.3" text-anchor="end" font-size="16.67">6</text>
<text x="658.74" y="566.3" text-anchor="end" font-size="16.67">2</text>
<text x="760.42" y="566.3" text-anchor="end" font-size="16.67">2</text>
<text x="40.8" y="585.1" font-size="16.67" textLength="75.5" lengthAdjust="spacing">Censored</text>
<text x="150.35" y="585.1" text-anchor="end" font-size="16.67">0</text>
<text x="252.02" y="585.1" text-anchor="end" font-size="16.67">4</text>
<text x="353.7" y="585.1" text-anchor="end" font-size="16.67">8</text>
<text x="455.38" y="585.1" text-anchor="end" font-size="16.67">15</text>
<text x="557.06" y="585.1" text-anchor="end" font-size="16.67">25</text>
<text x="658.74" y="585.1" text-anchor="end" font-size="16.67">29</text>
<text x="760.42" y="585.1" text-anchor="end" font-size="16.67">29</text>
</g>
<g transform="translate(0,1848.75)">
<g clip-path="url(#axclip)">
<path d="M151.05 30.95V30.95H188V33.44H226.5V36.78H235V40.65H283.75V45.01H339.5V50.1H370V55.82H391.25V62.12H438.75V69.72H726.25V160.9H438.75V144.47H391.25V131.96H370V119.89H339.5V108.71H283.75V99.22H235V90.27H226.5V81.33H188V74.69H151.05Z" fill="#1f77b4" fill-opacity="0.25" stroke="#1f77b4" stroke-opacity="0.25" stroke-width="1.3" stroke-linejoin="miter"/>
<path d="M151.05 30H165V30.68V30.68H166.75V32.44H168.25V34.75H175.5V37.42H178.75V40.35H186V43.5H196V46.85H201.8V50.33H209.75V53.97H217.75V57.71H221.5V61.6H223.7V65.57H227V69.62H228.5V73.74H237V77.98H240.25V82.29H246.25V86.72H252V91.21H274V95.91H280.5V100.66H339.25V111.06H348.5V116.46H370V122.06H381.6V127.84H478.4V134.96H497.5V142.69H811.95V234.71H497.5V223.45H478.4V213.1H381.6V205.84H370V198.74H348.5V191.79H339.25V178.06H280.5V171.88H274V165.62H252V159.63H246.25V153.58H240.25V147.61H237V141.57H228.5V135.61H227V129.57H223.7V123.45H221.5V117.23H217.75V111.06H209.75V104.78H201.8V98.54H196V92.17H186V85.82H178.75V79.52H175.5V73.13H168.25V67.08H166.75V62.69H165V30H151.05Z" fill="#ff7f0e" fill-opacity="0.25" stroke="#ff7f0e" stroke-opacity="0.25" stroke-width="1.3" stroke-linejoin="miter"/>
<path d="M151.05 36.66H188V43.58H226.5V50.64H235V57.7H283.75V65.08H339.5V73.4H370V82.43H391.25V92.03H438.75V103.94H726.25" fill="none" stroke="#1f77b4" stroke-width="2.5" stroke-linecap="square" stroke-linejoin="miter"/>
<path d="M151.05 30H165V34.79H166.75V39.66H168.25V44.52H175.5V49.45H178.75V54.37H186V59.38H196V64.46H201.8V69.54H209.75V74.7H217.75V79.86H221.5V85.11H223.7V90.36H227V95.61H228.5V100.86H237V106.21H240.25V111.56H246.25V117.01H252V122.46H274V128.14H280.5V133.83H339.25V146.3H348.5V152.71H370V159.29H381.6V166.06H478.4V175H497.5V184.76H811.95" fill="none" stroke="#ff7f0e" stroke-width="2.5" stroke-linecap="square" stroke-linejoin="miter"/>
</g>
<rect x="118" y="30" width="727" height="359.6" fill="none" stroke="#0d0d0d" stroke-width="1.5"/>
<text x="151.05" y="414.2" text-anchor="middle" font-size="16.67">0</text>
<text x="275.89" y="414.2" text-anchor="middle" font-size="16.67">500</text>
<text x="400.73" y="414.2" text-anchor="middle" font-size="16.67">1000</text>
<text x="525.57" y="414.2" text-anchor="middle" font-size="16.67">1500</text>
<text x="650.41" y="414.2" text-anchor="middle" font-size="16.67">2000</text>
<text x="775.25" y="414.2" text-anchor="middle" font-size="16.67">2500</text>
<text x="105.2" y="395.6" text-anchor="end" font-size="16.67">0.0</text>
<text x="105.2" y="323.68" text-anchor="end" font-size="16.67">0.2</text>
<text x="105.2" y="251.76" text-anchor="end" font-size="16.67">0.4</text>
<text x="105.2" y="179.84" text-anchor="end" font-size="16.67">0.6</text>
<text x="105.2" y="107.92" text-anchor="end" font-size="16.67">0.8</text>
<text x="105.2" y="36" text-anchor="end" font-size="16.67">1.0</text>
<path d="M151.05 389.6v6M275.89 389.6v6M400.73 389.6v6M525.57 389.6v6M650.41 389.6v6M775.25 389.6v6M118 389.6h-6M118 317.68h-6M118 245.76h-6M118 173.84h-6M118 101.92h-6M118 30h-6" stroke="#0d0d0d" stroke-width="1.5" fill="none"/>
<text x="354.2" y="19.3" font-size="20" textLength="255" lengthAdjust="spacing">DFS-Feature Fusion Model</text>
<text x="402.2" y="437.5" font-size="16.67" textLength="158.8" lengthAdjust="spacing">Survival Time (days)</text>
<text transform="translate(70.2,209.5) rotate(-90)" x="-74.7" y="0" font-size="16.67" textLength="149.4" lengthAdjust="spacing">Survival Probability</text>
<text x="26" y="23.5" text-anchor="middle" font-size="23.0" font-weight="bold" style="stroke:none">(g)</text>
<rect x="145.4" y="335.3" width="66.7" height="26.7" fill="#ffcccc" stroke="#ff8686" stroke-width="1.4"/>
<text x="151.1" y="352.8" font-size="16.67" textLength="55.1" lengthAdjust="spacing">P=0.01</text>
<rect x="704.3" y="39.6" width="132" height="55.4" rx="3.5" fill="#fff" fill-opacity="0.8" stroke="#d4d4d4" stroke-width="1.3"/>
<path d="M710 52.8h38" stroke="#1f77b4" stroke-width="2.5"/>
<path d="M710 78.3h38" stroke="#ff7f0e" stroke-width="2.5"/>
<text x="761.5" y="58.7" font-size="16.67" textLength="67.25" lengthAdjust="spacing">High risk</text>
<text x="761.5" y="84.1" font-size="16.67" textLength="63.25" lengthAdjust="spacing">Low risk</text>
<text x="83.35" y="471.9" font-size="16.67" textLength="67.4" lengthAdjust="spacing">High risk</text>
<text x="68.8" y="491.3" font-size="16.67" textLength="47.5" lengthAdjust="spacing">At risk</text>
<text x="150.85" y="491.3" text-anchor="end" font-size="16.67">53</text>
<text x="275.69" y="491.3" text-anchor="end" font-size="16.67">46</text>
<text x="400.53" y="491.3" text-anchor="end" font-size="16.67">30</text>
<text x="525.37" y="491.3" text-anchor="end" font-size="16.67">14</text>
<text x="650.21" y="491.3" text-anchor="end" font-size="16.67">6</text>
<text x="775.05" y="491.3" text-anchor="end" font-size="16.67">0</text>
<text x="40.8" y="510.4" font-size="16.67" textLength="75.5" lengthAdjust="spacing">Censored</text>
<text x="150.85" y="510.4" text-anchor="end" font-size="16.67">0</text>
<text x="275.69" y="510.4" text-anchor="end" font-size="16.67">4</text>
<text x="400.53" y="510.4" text-anchor="end" font-size="16.67">16</text>
<text x="525.37" y="510.4" text-anchor="end" font-size="16.67">31</text>
<text x="650.21" y="510.4" text-anchor="end" font-size="16.67">39</text>
<text x="775.05" y="510.4" text-anchor="end" font-size="16.67">45</text>
<text x="87.35" y="548.2" font-size="16.67" textLength="63.4" lengthAdjust="spacing">Low risk</text>
<text x="68.8" y="567.6" font-size="16.67" textLength="47.5" lengthAdjust="spacing">At risk</text>
<text x="150.85" y="567.6" text-anchor="end" font-size="16.67">77</text>
<text x="275.69" y="567.6" text-anchor="end" font-size="16.67">46</text>
<text x="400.53" y="567.6" text-anchor="end" font-size="16.67">32</text>
<text x="525.37" y="567.6" text-anchor="end" font-size="16.67">18</text>
<text x="650.21" y="567.6" text-anchor="end" font-size="16.67">8</text>
<text x="775.05" y="567.6" text-anchor="end" font-size="16.67">2</text>
<text x="40.8" y="587" font-size="16.67" textLength="75.5" lengthAdjust="spacing">Censored</text>
<text x="150.85" y="587" text-anchor="end" font-size="16.67">0</text>
<text x="275.69" y="587" text-anchor="end" font-size="16.67">12</text>
<text x="400.53" y="587" text-anchor="end" font-size="16.67">20</text>
<text x="525.37" y="587" text-anchor="end" font-size="16.67">32</text>
<text x="650.21" y="587" text-anchor="end" font-size="16.67">42</text>
<text x="775.05" y="587" text-anchor="end" font-size="16.67">48</text>
</g>
<g transform="translate(864,1848.75)">
<g clip-path="url(#axclip)">
<path d="M151.05 30H160V30.95V30.95H163V33.38H314.25V37.1H360V42.1H411.25V48.75H540V59.09H640.5V180.73H540V132.48H411.25V110.6H360V93.86H314.25V80.37H163V74.69H160V30H151.05Z" fill="#1f77b4" fill-opacity="0.25" stroke="#1f77b4" stroke-opacity="0.25" stroke-width="1.3" stroke-linejoin="miter"/>
<path d="M151.05 30H153V30.66V30.66H197V32.42H198.75V34.75H203V37.43H204.75V40.35H215.5V43.5H220V46.82H223.25V50.26H226.25V53.81H232.5V57.46H233V61.2H237.5V65.06H244.5V68.99H246.25V72.99H250V77.05H283V81.29H290V85.58H295.25V90H317V94.54H328V99.14H330.5V103.86H352.5V113.65H381.5V118.9H385.5V124.23H405V129.84H411.25V135.66H429.5V141.69H445.5V148.11H519.5V156.57H568V167.41H811.95V272.43H568V249.49H519.5V236.15H445.5V228.25H429.5V220.92H411.25V213.77H405V206.79H385.5V200.21H381.5V193.55H352.5V181.25H330.5V175.18H328V169.21H317V163.17H295.25V157.23H290V151.38H283V145.46H250V139.77H246.25V134.01H244.5V128.18H237.5V122.28H233V116.45H232.5V110.53H226.25V104.53H223.25V98.42H220V92.21H215.5V85.87H204.75V79.57H203V73.2H198.75V66.9H197V61.87H153V30H151.05Z" fill="#ff7f0e" fill-opacity="0.25" stroke="#ff7f0e" stroke-opacity="0.25" stroke-width="1.3" stroke-linejoin="miter"/>
<path d="M151.05 30H160V36.66H163V43.32H314.25V51.76H360V62H411.25V75.11H540V99.3H640.5V389.6H640.5" fill="none" stroke="#1f77b4" stroke-width="2.5" stroke-linecap="square" stroke-linejoin="miter"/>
<path d="M151.05 30H153V34.67H197V39.6H198.75V44.53H203V49.46H204.75V54.39H215.5V59.39H220V64.39H223.25V69.4H226.25V74.4H232.5V79.4H233V84.41H237.5V89.49H244.5V94.58H246.25V99.67H250V104.75H283V110.03H290V115.3H295.25V120.68H317V126.17H328V131.66H330.5V137.27H352.5V148.74H381.5V154.91H385.5V161.09H405V167.62H411.25V174.34H429.5V181.29H445.5V188.73H519.5V199.89H568V217.13H811.95" fill="none" stroke="#ff7f0e" stroke-width="2.5" stroke-linecap="square" stroke-linejoin="miter"/>
</g>
<rect x="118" y="30" width="727" height="359.6" fill="none" stroke="#0d0d0d" stroke-width="1.5"/>
<text x="150.55" y="414.2" text-anchor="middle" font-size="16.67">0</text>
<text x="252.22" y="414.2" text-anchor="middle" font-size="16.67">500</text>
<text x="353.9" y="414.2" text-anchor="middle" font-size="16.67">1000</text>
<text x="455.58" y="414.2" text-anchor="middle" font-size="16.67">1500</text>
<text x="557.26" y="414.2" text-anchor="middle" font-size="16.67">2000</text>
<text x="658.94" y="414.2" text-anchor="middle" font-size="16.67">2500</text>
<text x="760.62" y="414.2" text-anchor="middle" font-size="16.67">3000</text>
<text x="105.2" y="395.6" text-anchor="end" font-size="16.67">0.0</text>
<text x="105.2" y="323.68" text-anchor="end" font-size="16.67">0.2</text>
<text x="105.2" y="251.76" text-anchor="end" font-size="16.67">0.4</text>
<text x="105.2" y="179.84" text-anchor="end" font-size="16.67">0.6</text>
<text x="105.2" y="107.92" text-anchor="end" font-size="16.67">0.8</text>
<text x="105.2" y="36" text-anchor="end" font-size="16.67">1.0</text>
<path d="M150.55 389.6v6M252.22 389.6v6M353.9 389.6v6M455.58 389.6v6M557.26 389.6v6M658.94 389.6v6M760.62 389.6v6M118 389.6h-6M118 317.68h-6M118 245.76h-6M118 173.84h-6M118 101.92h-6M118 30h-6" stroke="#0d0d0d" stroke-width="1.5" fill="none"/>
<text x="360.2" y="19.3" font-size="20" textLength="243" lengthAdjust="spacing">OS-Feature Fusion Model</text>
<text x="402.2" y="437.5" font-size="16.67" textLength="158.8" lengthAdjust="spacing">Survival Time (days)</text>
<text transform="translate(70.2,209.5) rotate(-90)" x="-74.7" y="0" font-size="16.67" textLength="149.4" lengthAdjust="spacing">Survival Probability</text>
<text x="27.7" y="23.5" text-anchor="middle" font-size="23.0" font-weight="bold" style="stroke:none">(h)</text>
<rect x="145.4" y="335.3" width="77" height="26.7" fill="#ffcccc" stroke="#ff8686" stroke-width="1.4"/>
<text x="151.1" y="352.8" font-size="16.67" textLength="65.4" lengthAdjust="spacing">P=0.002</text>
<rect x="704.3" y="39.6" width="132" height="55.4" rx="3.5" fill="#fff" fill-opacity="0.8" stroke="#d4d4d4" stroke-width="1.3"/>
<path d="M710 52.8h38" stroke="#1f77b4" stroke-width="2.5"/>
<path d="M710 78.3h38" stroke="#ff7f0e" stroke-width="2.5"/>
<text x="761.5" y="58.7" font-size="16.67" textLength="67.25" lengthAdjust="spacing">High risk</text>
<text x="761.5" y="84.1" font-size="16.67" textLength="63.25" lengthAdjust="spacing">Low risk</text>
<text x="82.85" y="471.9" font-size="16.67" textLength="67.4" lengthAdjust="spacing">High risk</text>
<text x="68.8" y="491.3" font-size="16.67" textLength="47.5" lengthAdjust="spacing">At risk</text>
<text x="150.35" y="491.3" text-anchor="end" font-size="16.67">54</text>
<text x="252.02" y="491.3" text-anchor="end" font-size="16.67">50</text>
<text x="353.7" y="491.3" text-anchor="end" font-size="16.67">34</text>
<text x="455.38" y="491.3" text-anchor="end" font-size="16.67">17</text>
<text x="557.06" y="491.3" text-anchor="end" font-size="16.67">7</text>
<text x="658.74" y="491.3" text-anchor="end" font-size="16.67">0</text>
<text x="760.42" y="491.3" text-anchor="end" font-size="16.67">0</text>
<text x="40.8" y="510.4" font-size="16.67" textLength="75.5" lengthAdjust="spacing">Censored</text>
<text x="150.35" y="510.4" text-anchor="end" font-size="16.67">0</text>
<text x="252.02" y="510.4" text-anchor="end" font-size="16.67">2</text>
<text x="353.7" y="510.4" text-anchor="end" font-size="16.67">17</text>
<text x="455.38" y="510.4" text-anchor="end" font-size="16.67">32</text>
<text x="557.06" y="510.4" text-anchor="end" font-size="16.67">41</text>
<text x="658.74" y="510.4" text-anchor="end" font-size="16.67">47</text>
<text x="760.42" y="510.4" text-anchor="end" font-size="16.67">47</text>
<text x="86.85" y="548.2" font-size="16.67" textLength="63.4" lengthAdjust="spacing">Low risk</text>
<text x="68.8" y="567.6" font-size="16.67" textLength="47.5" lengthAdjust="spacing">At risk</text>
<text x="150.35" y="567.6" text-anchor="end" font-size="16.67">77</text>
<text x="252.02" y="567.6" text-anchor="end" font-size="16.67">56</text>
<text x="353.7" y="567.6" text-anchor="end" font-size="16.67">42</text>
<text x="455.38" y="567.6" text-anchor="end" font-size="16.67">26</text>
<text x="557.06" y="567.6" text-anchor="end" font-size="16.67">11</text>
<text x="658.74" y="567.6" text-anchor="end" font-size="16.67">4</text>
<text x="760.42" y="567.6" text-anchor="end" font-size="16.67">2</text>
<text x="40.8" y="587" font-size="16.67" textLength="75.5" lengthAdjust="spacing">Censored</text>
<text x="150.35" y="587" text-anchor="end" font-size="16.67">0</text>
<text x="252.02" y="587" text-anchor="end" font-size="16.67">6</text>
<text x="353.7" y="587" text-anchor="end" font-size="16.67">12</text>
<text x="455.38" y="587" text-anchor="end" font-size="16.67">22</text>
<text x="557.06" y="587" text-anchor="end" font-size="16.67">36</text>
<text x="658.74" y="587" text-anchor="end" font-size="16.67">42</text>
<text x="760.42" y="587" text-anchor="end" font-size="16.67">44</text>
</g>
</svg>
</body></html>
